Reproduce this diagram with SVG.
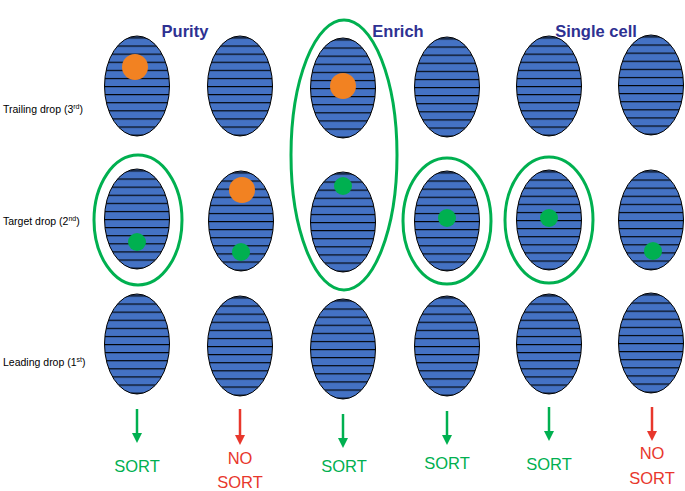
<svg xmlns="http://www.w3.org/2000/svg" xmlns:xlink="http://www.w3.org/1999/xlink" width="685" height="491" viewBox="0 0 685 491">
<style>
.title{font-family:"Liberation Sans",Arial,sans-serif;font-weight:bold;font-size:16.5px;fill:#2e3192;text-anchor:middle}
.lbl{font-family:"Liberation Sans",Arial,sans-serif;font-size:10.5px;fill:#000}
.sort{font-family:"Liberation Sans",Arial,sans-serif;font-size:16.5px;text-anchor:middle}
.g{fill:#00b050}.r{fill:#e8372c}
.ring{fill:none;stroke:#00b050;stroke-width:3}
.drop{fill:url(#stripes);stroke:#000;stroke-width:1}
.or{fill:#f28222}.gr{fill:#00b050}
.ag{stroke:#00b050;stroke-width:2.5;fill:none}
.ar{stroke:#e8372c;stroke-width:2.5;fill:none}
</style>
<defs>
<pattern id="stripes" patternUnits="userSpaceOnUse" x="0" y="0" width="80" height="8.1">
<rect width="80" height="8.1" fill="#4472c4"/>
<line x1="0" y1="0.6" x2="80" y2="0.6" stroke="#000" stroke-width="1.2"/>
</pattern>
<ellipse id="d" cx="0" cy="0" rx="32.5" ry="50" class="drop"/>
<marker id="mg" markerWidth="4" markerHeight="4" refX="2" refY="2" orient="auto" markerUnits="strokeWidth"><path d="M0,0 L4,2 L0,4 z" fill="#00b050"/></marker>
<marker id="mr" markerWidth="4" markerHeight="4" refX="2" refY="2" orient="auto" markerUnits="strokeWidth"><path d="M0,0 L4,2 L0,4 z" fill="#e8372c"/></marker>
</defs>
<rect width="685" height="491" fill="#fff"/>
<text class="title" x="185" y="37">Purity</text>
<text class="title" x="398" y="37">Enrich</text>
<text class="title" x="596" y="37">Single cell</text>
<text class="lbl" x="3" y="113">Trailing drop (3<tspan font-size="7" dy="-4">rd</tspan><tspan dy="4">)</tspan></text>
<text class="lbl" x="3" y="225">Target drop (2<tspan font-size="7" dy="-4">nd</tspan><tspan dy="4">)</tspan></text>
<text class="lbl" x="3" y="366">Leading drop (1<tspan font-size="7" dy="-4">st</tspan><tspan dy="4">)</tspan></text>
<g id="col1">
<use xlink:href="#d" x="137" y="86"/>
<circle class="or" cx="135" cy="67" r="13"/>
<use xlink:href="#d" x="137" y="219"/>
<circle class="gr" cx="137" cy="242" r="9"/>
<use xlink:href="#d" x="137" y="344"/>
<ellipse class="ring" cx="138" cy="220" rx="44" ry="65"/>
</g>
<g id="col2">
<use xlink:href="#d" x="240" y="86"/>
<use xlink:href="#d" x="241" y="221"/>
<circle class="or" cx="242" cy="190" r="13"/>
<circle class="gr" cx="241" cy="252" r="9"/>
<use xlink:href="#d" x="240" y="346"/>
</g>
<g id="col3">
<use xlink:href="#d" x="343" y="88"/>
<circle class="or" cx="343" cy="86" r="13"/>
<use xlink:href="#d" x="343" y="222"/>
<circle class="gr" cx="343" cy="186" r="9"/>
<use xlink:href="#d" x="343" y="349"/>
<ellipse class="ring" cx="344" cy="155" rx="53" ry="135"/>
</g>
<g id="col4">
<use xlink:href="#d" x="447" y="87"/>
<use xlink:href="#d" x="447" y="221"/>
<circle class="gr" cx="447" cy="218" r="9"/>
<use xlink:href="#d" x="447" y="346"/>
<ellipse class="ring" cx="447" cy="221" rx="44" ry="63"/>
</g>
<g id="col5">
<use xlink:href="#d" x="549" y="86"/>
<use xlink:href="#d" x="549" y="220"/>
<circle class="gr" cx="549" cy="218" r="9"/>
<use xlink:href="#d" x="549" y="344"/>
<ellipse class="ring" cx="549" cy="220" rx="44" ry="63"/>
</g>
<g id="col6">
<use xlink:href="#d" x="651" y="85"/>
<use xlink:href="#d" x="651" y="220"/>
<circle class="gr" cx="653" cy="251" r="9"/>
<use xlink:href="#d" x="651" y="343"/>
</g>
<g id="connectors">
<line class="ag" x1="137" y1="409" x2="137" y2="438" marker-end="url(#mg)"/>
<line class="ar" x1="240" y1="409" x2="240" y2="440" marker-end="url(#mr)"/>
<line class="ag" x1="343" y1="414" x2="343" y2="443" marker-end="url(#mg)"/>
<line class="ag" x1="447" y1="411" x2="447" y2="440" marker-end="url(#mg)"/>
<line class="ag" x1="549" y1="407" x2="549" y2="436" marker-end="url(#mg)"/>
<line class="ar" x1="652" y1="407" x2="652" y2="436" marker-end="url(#mr)"/>
</g>
<text class="sort g" x="137" y="472">SORT</text>
<text class="sort r" x="240" y="464">NO</text>
<text class="sort r" x="240" y="488">SORT</text>
<text class="sort g" x="344" y="472">SORT</text>
<text class="sort g" x="447" y="469">SORT</text>
<text class="sort g" x="549" y="470">SORT</text>
<text class="sort r" x="652" y="459">NO</text>
<text class="sort r" x="652" y="484">SORT</text>
</svg>
